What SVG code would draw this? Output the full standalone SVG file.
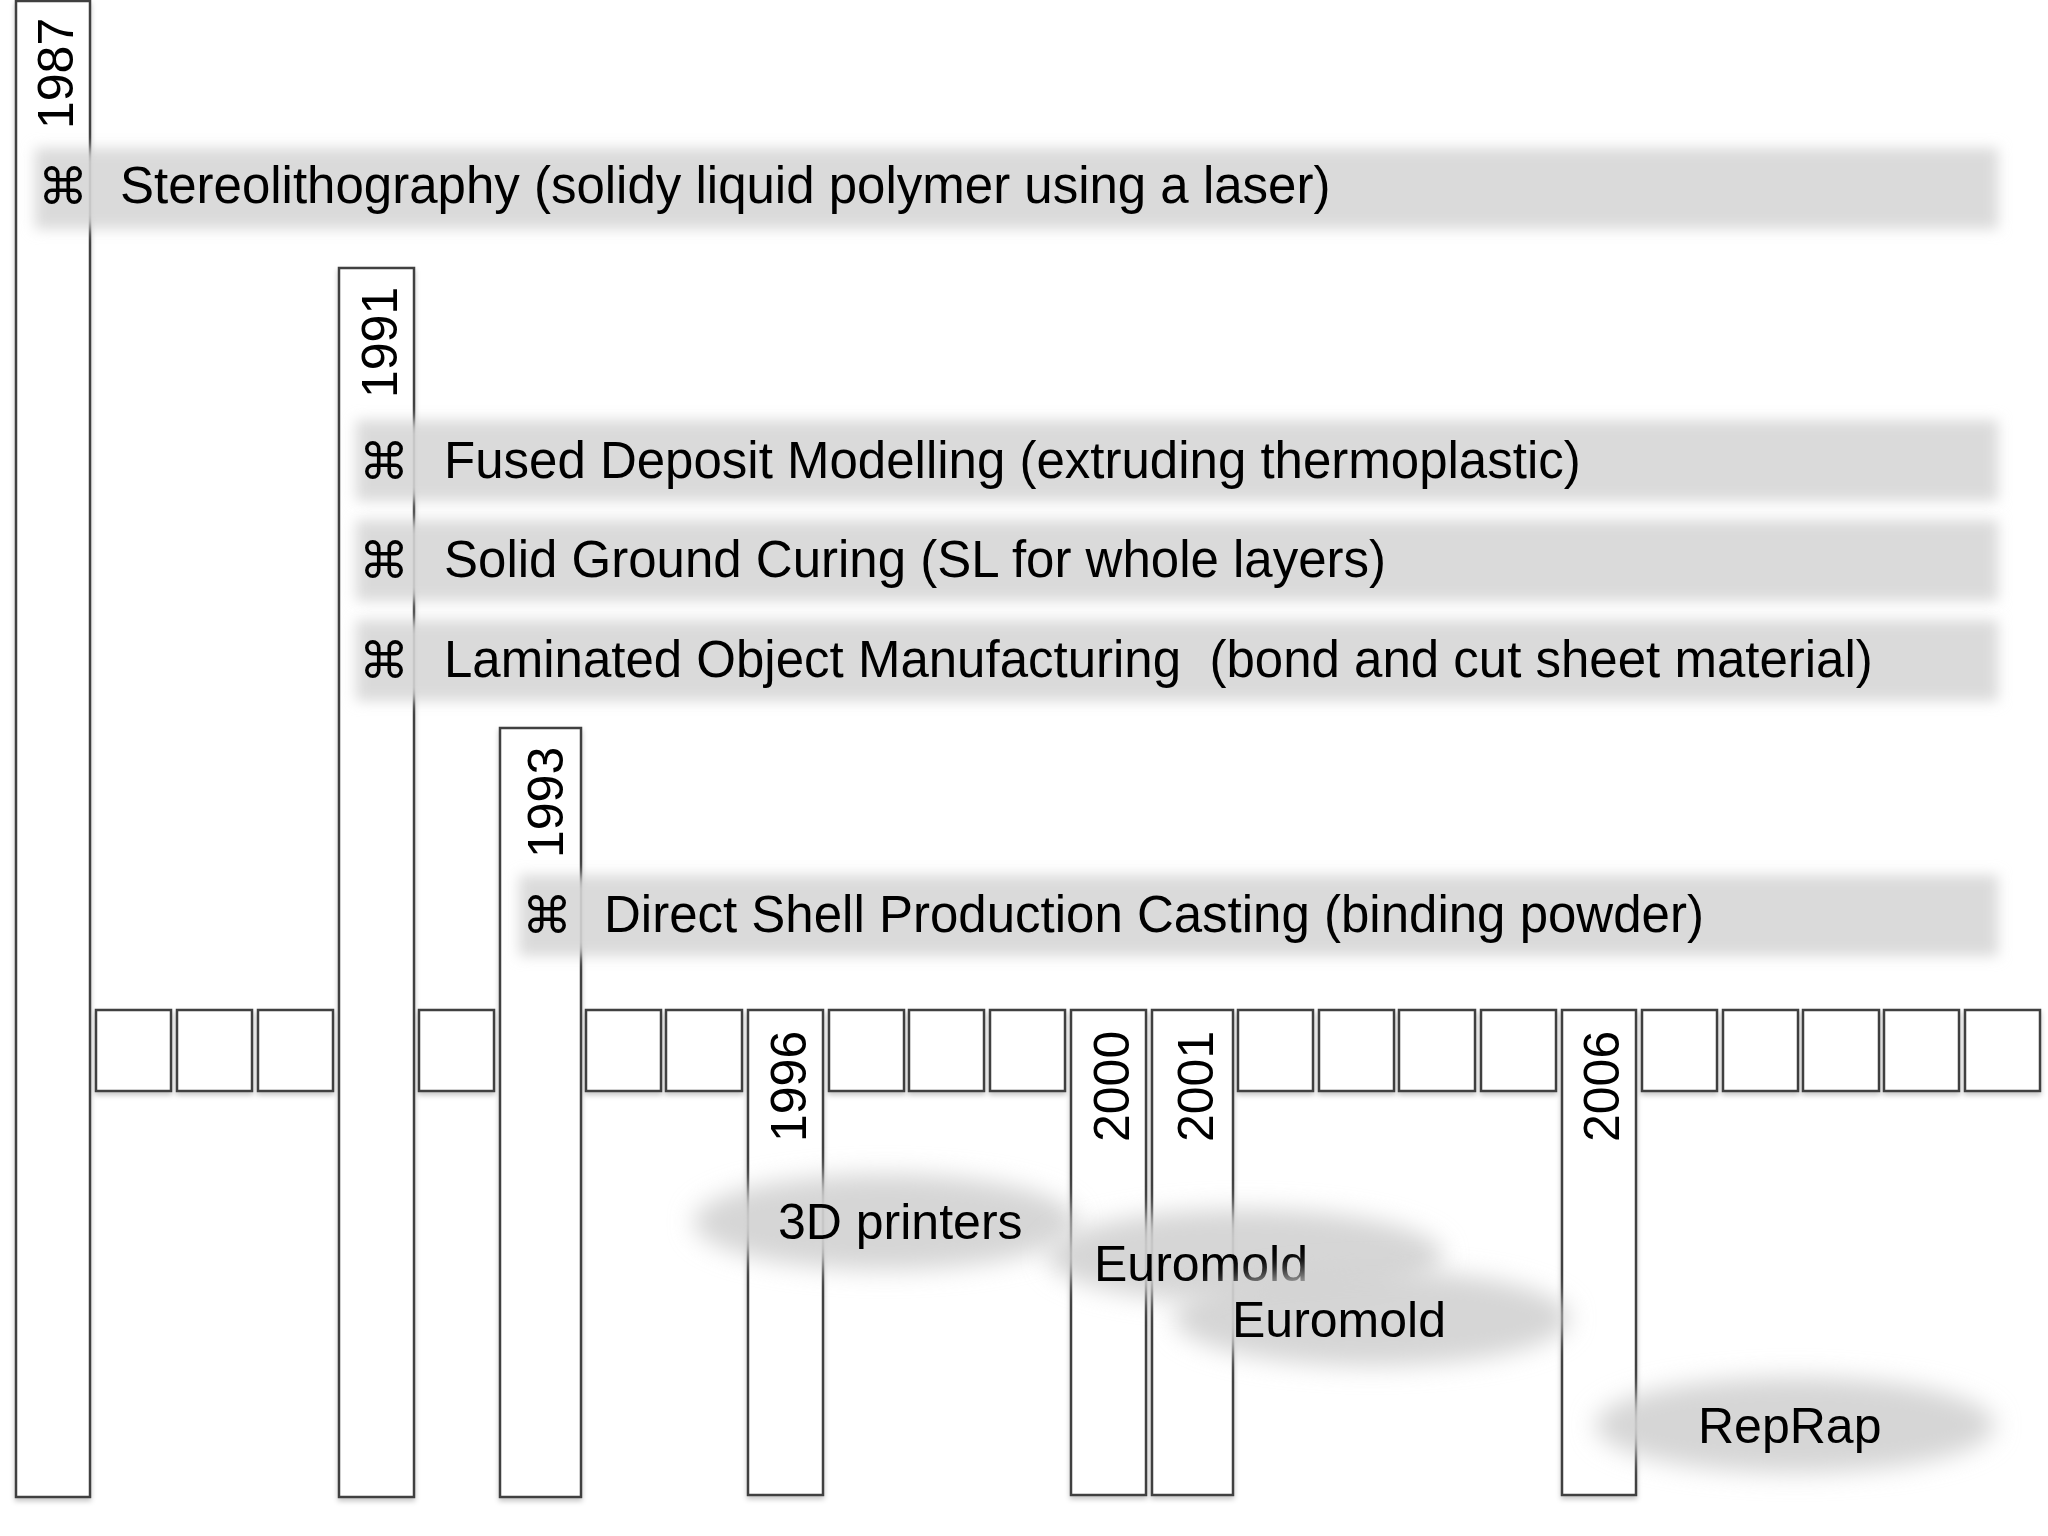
<svg xmlns="http://www.w3.org/2000/svg" width="2048" height="1536" viewBox="0 0 2048 1536">
<defs>
<filter id="blurBanner" x="-5%" y="-60%" width="110%" height="220%"><feGaussianBlur stdDeviation="7"/></filter>
<filter id="blurBlob" x="-25%" y="-70%" width="150%" height="240%"><feGaussianBlur stdDeviation="12"/></filter>
<filter id="shadow" x="-10%" y="-10%" width="120%" height="130%"><feDropShadow dx="0" dy="3" stdDeviation="2.5" flood-color="#000" flood-opacity="0.22"/></filter>
</defs>
<style>
.bar{fill:#fff;stroke:#404040;stroke-width:2.5;filter:url(#shadow)}
.box{fill:#fff;stroke:#404040;stroke-width:2.5;filter:url(#shadow)}
.banner{fill:#d6d6d6;fill-opacity:0.9;filter:url(#blurBanner)}
.blob{fill:#d3d3d3;fill-opacity:0.92;filter:url(#blurBlob)}
.year{font-family:"Liberation Sans",Arial,sans-serif;font-size:50px;fill:#000}
.lbl{font-family:"Liberation Sans",Arial,sans-serif;font-size:51px;fill:#000;white-space:pre}
.cmd{font-family:"DejaVu Sans","Noto Sans",sans-serif;font-size:50px;fill:#000}
.blbl{font-family:"Liberation Sans",Arial,sans-serif;font-size:50px;fill:#000}
</style>
<rect width="2048" height="1536" fill="#fff"/>

<g id="year-boxes">
<rect class="box" x="96" y="1010" width="75" height="81"/>
<rect class="box" x="177" y="1010" width="75" height="81"/>
<rect class="box" x="258" y="1010" width="75" height="81"/>
<rect class="box" x="419" y="1010" width="75" height="81"/>
<rect class="box" x="586" y="1010" width="75" height="81"/>
<rect class="box" x="666" y="1010" width="76" height="81"/>
<rect class="box" x="829" y="1010" width="75" height="81"/>
<rect class="box" x="909" y="1010" width="75" height="81"/>
<rect class="box" x="990" y="1010" width="75" height="81"/>
<rect class="box" x="1238" y="1010" width="75" height="81"/>
<rect class="box" x="1319" y="1010" width="75" height="81"/>
<rect class="box" x="1399" y="1010" width="76" height="81"/>
<rect class="box" x="1481" y="1010" width="75" height="81"/>
<rect class="box" x="1642" y="1010" width="75" height="81"/>
<rect class="box" x="1723" y="1010" width="75" height="81"/>
<rect class="box" x="1803" y="1010" width="76" height="81"/>
<rect class="box" x="1884" y="1010" width="75" height="81"/>
<rect class="box" x="1965" y="1010" width="75" height="81"/>
</g>

<g id="bar-1987">
<rect class="bar" x="16" y="1" width="74" height="1496"/>
<text class="year" transform="translate(73,129) rotate(-90)">1987</text>
</g>
<g id="bar-1991">
<rect class="bar" x="339" y="268" width="75" height="1229"/>
<text class="year" transform="translate(397,398) rotate(-90)">1991</text>
</g>
<g id="bar-1993">
<rect class="bar" x="500" y="728" width="81" height="769"/>
<text class="year" transform="translate(563,858) rotate(-90)">1993</text>
</g>
<g id="bar-1996">
<rect class="bar" x="748" y="1010" width="75" height="485"/>
<text class="year" transform="translate(806,1142) rotate(-90)">1996</text>
</g>
<g id="bar-2000">
<rect class="bar" x="1071" y="1010" width="75" height="485"/>
<text class="year" transform="translate(1129,1142) rotate(-90)">2000</text>
</g>
<g id="bar-2001">
<rect class="bar" x="1152" y="1010" width="81" height="485"/>
<text class="year" transform="translate(1213,1142) rotate(-90)">2001</text>
</g>
<g id="bar-2006">
<rect class="bar" x="1562" y="1010" width="74" height="485"/>
<text class="year" transform="translate(1619,1142) rotate(-90)">2006</text>
</g>

<g id="tech-stereolithography">
<rect class="banner" x="35" y="148" width="1963" height="81"/>
<text class="cmd" x="38" y="204">⌘</text>
<text class="lbl" x="120" y="203">Stereolithography (solidy liquid polymer using a laser)</text>
</g>
<g id="tech-fdm">
<rect class="banner" x="356" y="420" width="1642" height="81"/>
<text class="cmd" x="359" y="479">⌘</text>
<text class="lbl" x="444" y="478">Fused Deposit Modelling (extruding thermoplastic)</text>
</g>
<g id="tech-sgc">
<rect class="banner" x="356" y="520" width="1642" height="81"/>
<text class="cmd" x="359" y="578">⌘</text>
<text class="lbl" x="444" y="577">Solid Ground Curing (SL for whole layers)</text>
</g>
<g id="tech-lom">
<rect class="banner" x="356" y="620" width="1642" height="81"/>
<text class="cmd" x="359" y="678">⌘</text>
<text class="lbl" x="444" y="677">Laminated Object Manufacturing  (bond and cut sheet material)</text>
</g>
<g id="tech-dspc">
<rect class="banner" x="519" y="875" width="1479" height="81"/>
<text class="cmd" x="522" y="933">⌘</text>
<text class="lbl" x="604" y="932">Direct Shell Production Casting (binding powder)</text>
</g>

<g id="event-3d-printers">
<ellipse class="blob" cx="885" cy="1222" rx="192" ry="48"/>
<text class="blbl" x="778" y="1239">3D printers</text>
</g>
<g id="event-euromold-2000">
<ellipse class="blob" cx="1245" cy="1256" rx="198" ry="47"/>
<text class="blbl" x="1094" y="1281">Euromold</text>
</g>
<g id="event-euromold-2001">
<ellipse class="blob" cx="1372" cy="1318" rx="198" ry="48"/>
<text class="blbl" x="1232" y="1337">Euromold</text>
</g>
<g id="event-reprap">
<ellipse class="blob" cx="1795" cy="1425" rx="200" ry="48"/>
<text class="blbl" x="1698" y="1443">RepRap</text>
</g>
</svg>
